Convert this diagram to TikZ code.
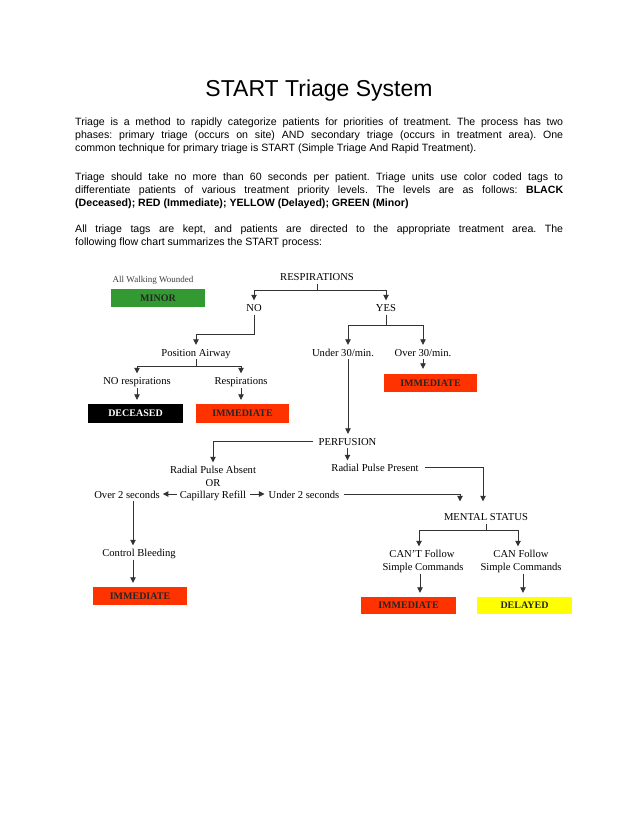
\documentclass[tikz,border=0pt]{standalone}
\usepackage{fontspec}
\setmainfont{Liberation Sans}
\newfontfamily\tnr{Liberation Serif}
\usetikzlibrary{arrows.meta}
\definecolor{tred}{RGB}{255,51,0}
\definecolor{tgreen}{RGB}{51,153,51}
\definecolor{tyellow}{RGB}{255,255,0}
\frenchspacing
\begin{document}
\begin{tikzpicture}[x=1pt,y=-1pt,
  para/.style={text width=488pt, align=justify, inner sep=0pt, anchor=base west,
    font=\frenchspacing\fontsize{10.6}{12.7}\selectfont},
  txt/.style={font=\tnr\fontsize{10.6}{12}\selectfont, inner xsep=1pt, inner ysep=1pt,
    text height=10pt, text depth=2pt, anchor=base},
  tagbox/.style={minimum width=94pt, minimum height=18pt, inner sep=0pt,
    font=\tnr\bfseries\fontsize{10}{12}\selectfont},
  arr/.style={draw=black!80, line width=0.8pt, -{Triangle[length=5.5pt,width=5.5pt]}},
  ln/.style={draw=black!80, line width=0.8pt}]
\fill[white] (0,0) rectangle (638,826);
\useasboundingbox (0,0) rectangle (638,826);

% title and text
\node[font=\fontsize{23}{27}\selectfont, anchor=base, inner sep=0pt] (title) at (319,97) {START Triage System};
\node[para] (p1) at (75,126) {Triage is a method to rapidly categorize patients for priorities of treatment. The process has two\linebreak phases: primary triage (occurs on site) AND secondary triage (occurs in treatment area). One\linebreak common technique for primary triage is START (Simple Triage And Rapid Treatment).};
\node[para] (p2) at (75,181) {Triage should take no more than 60 seconds per patient. Triage units use color coded tags to\linebreak differentiate patients of various treatment priority levels. The levels are as follows: \textbf{BLACK}\linebreak \textbf{(Deceased); RED (Immediate); YELLOW (Delayed); GREEN (Minor)}};
\node[para] (p3) at (75,233) {All triage tags are kept, and patients are directed to the appropriate treatment area. The\linebreak following flow chart summarizes the START process:};

% flowchart nodes
\node[txt, font=\tnr\fontsize{9}{11}\selectfont, text=black!75] (awk) at (153,282) {All Walking Wounded};
\node[tagbox, fill=tgreen, text=black!85] (minor) at (158,298) {MINOR};
\node[txt] (resp) at (317,280.5) {RESPIRATIONS};
\node[txt] (no) at (254,311.5) {NO};
\node[txt] (yes) at (386,311.5) {YES};
\node[txt] (pa) at (196,356) {Position Airway};
\node[txt] (nr) at (137,384.5) {NO respirations};
\node[txt] (rs) at (241,384.5) {Respirations};
\node[tagbox, fill=black, text=white, minimum width=95pt, minimum height=19pt] (dec) at (135.5,413.5) {DECEASED};
\node[tagbox, fill=tred, text=black!85, minimum width=93pt, minimum height=19pt] (imm1) at (242.5,413.5) {IMMEDIATE};
\node[txt] (u30) at (343,356) {Under 30/min.};
\node[txt] (o30) at (423,356) {Over 30/min.};
\node[tagbox, fill=tred, text=black!85, minimum width=93pt] (imm2) at (430.5,383) {IMMEDIATE};
\node[txt] (perf) at (347.5,445) {PERFUSION};
\node[txt] (rpa) at (213,473.5) {Radial Pulse Absent};
\node[txt] (or) at (213,486) {OR};
\node[txt] (cr) at (213,498) {Capillary Refill};
\node[txt] (o2) at (127,498) {Over 2 seconds};
\node[txt] (u2) at (304,498) {Under 2 seconds};
\node[txt] (rpp) at (375,471.5) {Radial Pulse Present};
\node[txt] (ms) at (486,520.5) {MENTAL STATUS};
\node[txt] (cant1) at (422,557.5) {CAN’T Follow};
\node[txt] (cant2) at (423,570.5) {Simple Commands};
\node[txt] (can1) at (521,557.5) {CAN Follow};
\node[txt] (can2) at (521,570.5) {Simple Commands};
\node[txt] (cb) at (139,556.5) {Control Bleeding};
\node[tagbox, fill=tred, text=black!85] (imm3) at (140,596) {IMMEDIATE};
\node[tagbox, fill=tred, text=black!85, minimum width=95pt, minimum height=17pt] (imm4) at (408.5,605.5) {IMMEDIATE};
\node[tagbox, fill=tyellow, text=black!85, minimum width=95pt, minimum height=17pt] (del) at (524.5,605.5) {DELAYED};

% connectors
\draw[arr] (resp.south) -- ++(0,6.5) -| (no.north);
\draw[arr] (resp.south) -- ++(0,6.5) -| (yes.north);
\draw[arr] (no.south) -- ++(0,19.5) -| (pa.north);
\draw[arr] (pa.south) -- ++(0,7) -| (nr.north);
\draw[arr] (pa.south) -- ++(0,7) -| (rs.north);
\draw[arr, shorten >=4pt] (nr.south) -- (nr.south |- dec.north);
\draw[arr, shorten >=4pt] (rs.south) -- (rs.south |- imm1.north);
\draw[arr] (yes.south) -- ++(0,10.5) -| ([xshift=5pt]u30.north);
\draw[arr] (yes.south) -- ++(0,10.5) -| (o30.north);
\draw[arr, shorten >=5pt] (o30.south) -- (o30.south |- imm2.north);
\draw[arr] ([xshift=5pt]u30.south) -- ([xshift=5pt]u30.south |- perf.north);
\draw[arr, shorten <=4pt] (perf.west) -| (rpa.north);
\draw[arr] (perf.south) -- (perf.south |- rpp.north);
\draw[arr, shorten <=2pt, shorten >=2pt] (cr.west) -- (o2.east);
\draw[arr, shorten <=3pt, shorten >=3pt] (cr.east) -- (u2.west);
\draw[arr] ([xshift=3pt]u2.east) -| ([xshift=-26pt,yshift=8pt]ms.north);
\draw[arr] ([xshift=5pt]rpp.east) -| ([xshift=-3pt,yshift=8pt]ms.north);
\draw[arr] (ms.south) -- ++(0,6.5) -| ([xshift=-3pt]cant1.north);
\draw[arr] (ms.south) -- ++(0,6.5) -| ([xshift=-3pt]can1.north);
\draw[arr, shorten >=4pt] ([xshift=-3pt]cant2.south) -- ([xshift=-3pt]cant2.south |- imm4.north);
\draw[arr, shorten >=4pt] ([xshift=2pt]can2.south) -- ([xshift=2pt]can2.south |- del.north);
\draw[arr] ([xshift=6pt]o2.south) -- ([xshift=-6pt]cb.north);
\draw[arr, shorten >=4pt] ([xshift=-6pt]cb.south) -- ([xshift=-6pt]cb.south |- imm3.north);
\end{tikzpicture}
\end{document}
